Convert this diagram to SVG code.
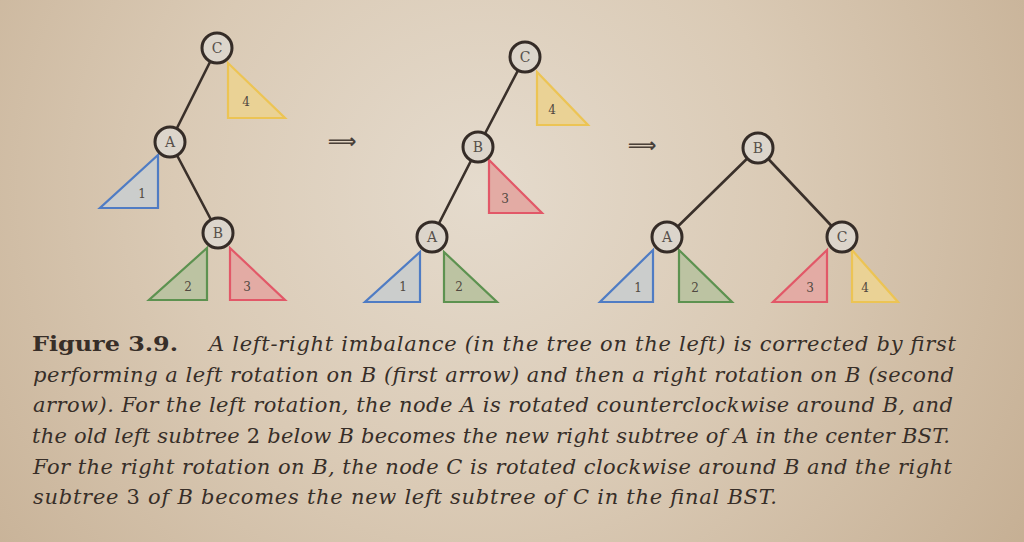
<svg xmlns="http://www.w3.org/2000/svg" width="1024" height="542" viewBox="0 0 1024 542">
  <defs>
    <radialGradient id="paper" cx="480" cy="190" r="680" gradientUnits="userSpaceOnUse">
      <stop offset="0" stop-color="#e5dbcd"/>
      <stop offset="0.45" stop-color="#dacab5"/>
      <stop offset="1" stop-color="#c4ad91"/>
    </radialGradient>
    <style>
      .edge { stroke: #3a302a; stroke-width: 2.6; fill: none; stroke-linecap: round; }
      .node circle { fill: #dcd5cb; stroke: #352c27; stroke-width: 3; }
      .node text { font-family: "DejaVu Serif", "Liberation Serif", serif; font-size: 14px; fill: #57504a; text-anchor: middle; dominant-baseline: central; }
      .tri { stroke-width: 2.2; stroke-linejoin: miter; }
      .blue { fill: #cbcdcc; stroke: #4f7cc4; }
      .green { fill: #bcc3a2; stroke: #5d9250; }
      .red { fill: #e3aba4; stroke: #e25868; }
      .yellow { fill: #ead295; stroke: #ecc454; }
      .tlab { font-family: "DejaVu Serif", "Liberation Serif", serif; font-size: 12px; fill: #504840; text-anchor: middle; }
      .arrow { font-family: "DejaVu Sans", sans-serif; font-size: 20px; font-weight: bold; fill: #4a4038; text-anchor: middle; dominant-baseline: central; }
      .cap { font-family: "DejaVu Serif", "Liberation Serif", serif; font-size: 21px; fill: #372e28; font-style: italic; }
      .capb { font-family: "DejaVu Serif", "Liberation Serif", serif; font-size: 20px; fill: #372e28; font-weight: bold; }
      .up { font-style: normal; }
    </style>
  </defs>
  <rect width="1024" height="542" fill="url(#paper)"/>

  <g id="connectors">
    <line class="edge" x1="217" y1="48" x2="170" y2="142"/>
    <line class="edge" x1="170" y1="142" x2="218" y2="233"/>
    <line class="edge" x1="525" y1="57" x2="478" y2="147"/>
    <line class="edge" x1="478" y1="147" x2="432" y2="237"/>
    <line class="edge" x1="758" y1="148" x2="667" y2="237"/>
    <line class="edge" x1="758" y1="148" x2="842" y2="237"/>
  </g>

  <!-- Tree 1 -->
  <g id="t1-sub4"><polygon class="tri yellow" points="228,63 228,118 285,118"/><text class="tlab" x="246" y="106">4</text></g>
  <g id="t1-sub1"><polygon class="tri blue" points="158,155 158,208 100,208"/><text class="tlab" x="142" y="198">1</text></g>
  <g id="t1-sub2"><polygon class="tri green" points="207,248 207,300 149,300"/><text class="tlab" x="188" y="291">2</text></g>
  <g id="t1-sub3"><polygon class="tri red" points="230,248 230,300 285,300"/><text class="tlab" x="247" y="291">3</text></g>
  <g id="t1-C" class="node"><circle cx="217" cy="48" r="15"/><text x="217" y="48">C</text></g>
  <g id="t1-A" class="node"><circle cx="170" cy="142" r="15"/><text x="170" y="142">A</text></g>
  <g id="t1-B" class="node"><circle cx="218" cy="233" r="15"/><text x="218" y="233">B</text></g>

  <g id="arrow1"><text class="arrow" x="342" y="141">⟹</text></g>

  <!-- Tree 2 -->
  <g id="t2-sub4"><polygon class="tri yellow" points="537,72 537,125 588,125"/><text class="tlab" x="552" y="114">4</text></g>
  <g id="t2-sub3"><polygon class="tri red" points="489,160 489,213 542,213"/><text class="tlab" x="505" y="203">3</text></g>
  <g id="t2-sub1"><polygon class="tri blue" points="420,252 420,302 365,302"/><text class="tlab" x="403" y="291">1</text></g>
  <g id="t2-sub2"><polygon class="tri green" points="444,252 444,302 497,302"/><text class="tlab" x="459" y="291">2</text></g>
  <g id="t2-C" class="node"><circle cx="525" cy="57" r="15"/><text x="525" y="57">C</text></g>
  <g id="t2-B" class="node"><circle cx="478" cy="147" r="15"/><text x="478" y="147">B</text></g>
  <g id="t2-A" class="node"><circle cx="432" cy="237" r="15"/><text x="432" y="237">A</text></g>

  <g id="arrow2"><text class="arrow" x="642" y="145">⟹</text></g>

  <!-- Tree 3 -->
  <g id="t3-sub1"><polygon class="tri blue" points="653,250 653,302 600,302"/><text class="tlab" x="638" y="292">1</text></g>
  <g id="t3-sub2"><polygon class="tri green" points="679,250 679,302 732,302"/><text class="tlab" x="695" y="292">2</text></g>
  <g id="t3-sub3"><polygon class="tri red" points="827,250 827,302 773,302"/><text class="tlab" x="810" y="292">3</text></g>
  <g id="t3-sub4"><polygon class="tri yellow" points="852,250 852,302 898,302"/><text class="tlab" x="865" y="292">4</text></g>
  <g id="t3-B" class="node"><circle cx="758" cy="148" r="15"/><text x="758" y="148">B</text></g>
  <g id="t3-A" class="node"><circle cx="667" cy="237" r="15"/><text x="667" y="237">A</text></g>
  <g id="t3-C" class="node"><circle cx="842" cy="237" r="15"/><text x="842" y="237">C</text></g>

  <!-- Caption -->
  <g id="caption">
    <text class="capb" x="32" y="351" textLength="146" lengthAdjust="spacingAndGlyphs">Figure 3.9.</text>
    <text class="cap" x="209" y="351" textLength="747" lengthAdjust="spacing">A left-right imbalance (in the tree on the left) is corrected by first</text>
    <text class="cap" x="33" y="382" textLength="921" lengthAdjust="spacing">performing a left rotation on B (first arrow) and then a right rotation on B (second</text>
    <text class="cap" x="33" y="412" textLength="920" lengthAdjust="spacing">arrow). For the left rotation, the node A is rotated counterclockwise around B, and</text>
    <text class="cap" x="32" y="443" textLength="918" lengthAdjust="spacing">the old left subtree <tspan class="up">2</tspan> below B becomes the new right subtree of A in the center BST.</text>
    <text class="cap" x="33" y="474" textLength="919" lengthAdjust="spacing">For the right rotation on B, the node C is rotated clockwise around B and the right</text>
    <text class="cap" x="33" y="504" textLength="744" lengthAdjust="spacing">subtree <tspan class="up">3</tspan> of B becomes the new left subtree of C in the final BST.</text>
  </g>
</svg>
